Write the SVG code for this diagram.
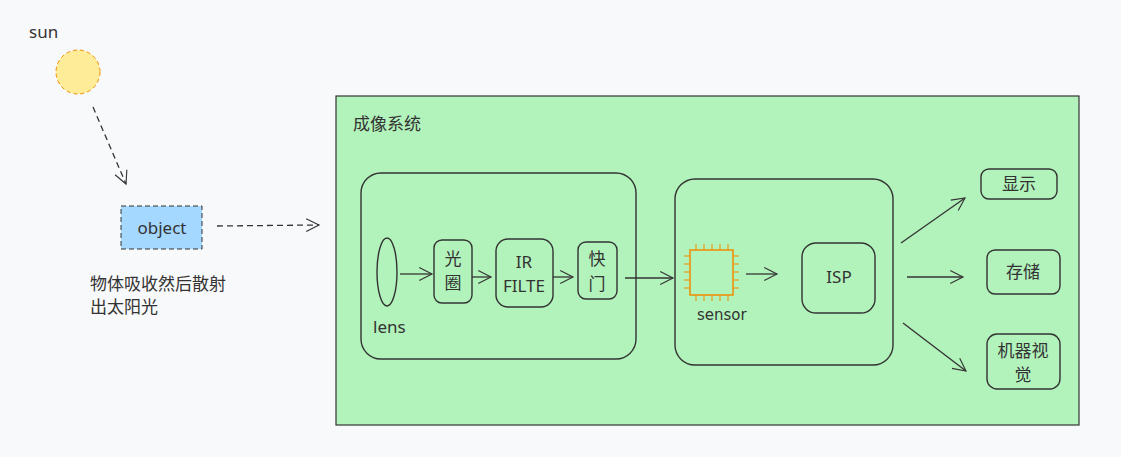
<svg xmlns="http://www.w3.org/2000/svg" width="1121" height="457" viewBox="0 0 1121 457">
<defs>
<marker id="a" viewBox="0 0 20 20" refX="18" refY="10" markerWidth="16" markerHeight="16" markerUnits="userSpaceOnUse" orient="auto"><path d="M2,2 L18,10 L2,18" fill="none" stroke="#333" stroke-width="1.4"/></marker>
</defs>
<style>
text{font-family:"Noto Sans","Noto Sans CJK SC",sans-serif;fill:#333;font-size:17px}
.c{text-anchor:middle}
.b{fill:none;stroke:#333;stroke-width:1.4}
.l{fill:none;stroke:#333;stroke-width:1.3;marker-end:url(#a)}
.d{stroke-dasharray:6 4}
</style>
<rect width="1121" height="457" fill="#f8f9fa"/>
<g id="sun"><text x="29" y="38">sun</text><circle cx="78" cy="72" r="22" fill="#ffec99" stroke="#f08c00" stroke-dasharray="4 3"/></g>
<g id="object"><rect x="121" y="206" width="81" height="43" fill="#a5d8ff" stroke="#333" stroke-dasharray="5 3"/><text class="c" x="162" y="234">object</text></g>
<g id="note"><text x="90" y="290">物体吸收然后散射</text><text x="90" y="313">出太阳光</text></g>
<g id="system"><rect x="336" y="96" width="743" height="329" fill="#b2f2bb" stroke="#333" stroke-width="1.2"/><text x="353" y="130">成像系统</text></g>
<g id="optics"><rect class="b" x="361" y="173" width="275" height="186" rx="20"/></g>
<g id="lens"><ellipse class="b" cx="387" cy="272" rx="10" ry="34"/><text x="373" y="333">lens</text></g>
<g id="aperture"><rect class="b" x="434" y="240" width="38" height="63" rx="8"/><text class="c" x="453" y="265">光</text><text class="c" x="453" y="289">圈</text></g>
<g id="ir"><rect class="b" x="496" y="239" width="57" height="68" rx="12"/><text class="c" x="524" y="268">IR</text><text class="c" x="524" y="292">FILTE</text></g>
<g id="shutter"><rect class="b" x="578" y="242" width="39" height="57" rx="8"/><text class="c" x="597" y="265">快</text><text class="c" x="597" y="290">门</text></g>
<g id="imaging"><rect class="b" x="675" y="179" width="218" height="186" rx="20"/></g>
<g id="sensor">
<rect x="690" y="250" width="43" height="45" fill="none" stroke="#f08c00" stroke-width="1.5"/>
<path stroke="#f08c00" stroke-width="1" d="M696,244v6M704,244v6M712,244v6M720,244v6M728,244v6M696,295v6M704,295v6M712,295v6M720,295v6M728,295v6M684,256h6M684,264h6M684,272h6M684,280h6M684,288h6M733,256h6M733,264h6M733,272h6M733,280h6M733,288h6"/>
<text x="697" y="320" style="font-size:15px;font-family:'Comic Sans MS','DejaVu Sans',sans-serif">sensor</text></g>
<g id="isp"><rect class="b" x="802" y="243" width="73" height="70" rx="14"/><text class="c" x="839" y="283">ISP</text></g>
<g id="display"><rect class="b" x="981" y="169" width="76" height="30" rx="8"/><text class="c" x="1019" y="190">显示</text></g>
<g id="storage"><rect class="b" x="987" y="250" width="73" height="44" rx="8"/><text class="c" x="1023" y="278">存储</text></g>
<g id="vision"><rect class="b" x="987" y="334" width="73" height="55" rx="10"/><text class="c" x="1023" y="357">机器视</text><text class="c" x="1023" y="381">觉</text></g>
<g id="connectors">
<path class="l d" d="M93,107 L126,184"/>
<path class="l d" d="M217,226 L319,225"/>
<path class="l" d="M400,274 L432,274"/>
<path class="l" d="M472,277 L491,277"/>
<path class="l" d="M553,277 L573,277"/>
<path class="l" d="M625,278 L673,278"/>
<path class="l" d="M746,274 L777,274"/>
<path class="l" d="M901,243 L965,198"/>
<path class="l" d="M907,277 L963,277"/>
<path class="l" d="M903,323 L966,371"/>
</g>
</svg>
